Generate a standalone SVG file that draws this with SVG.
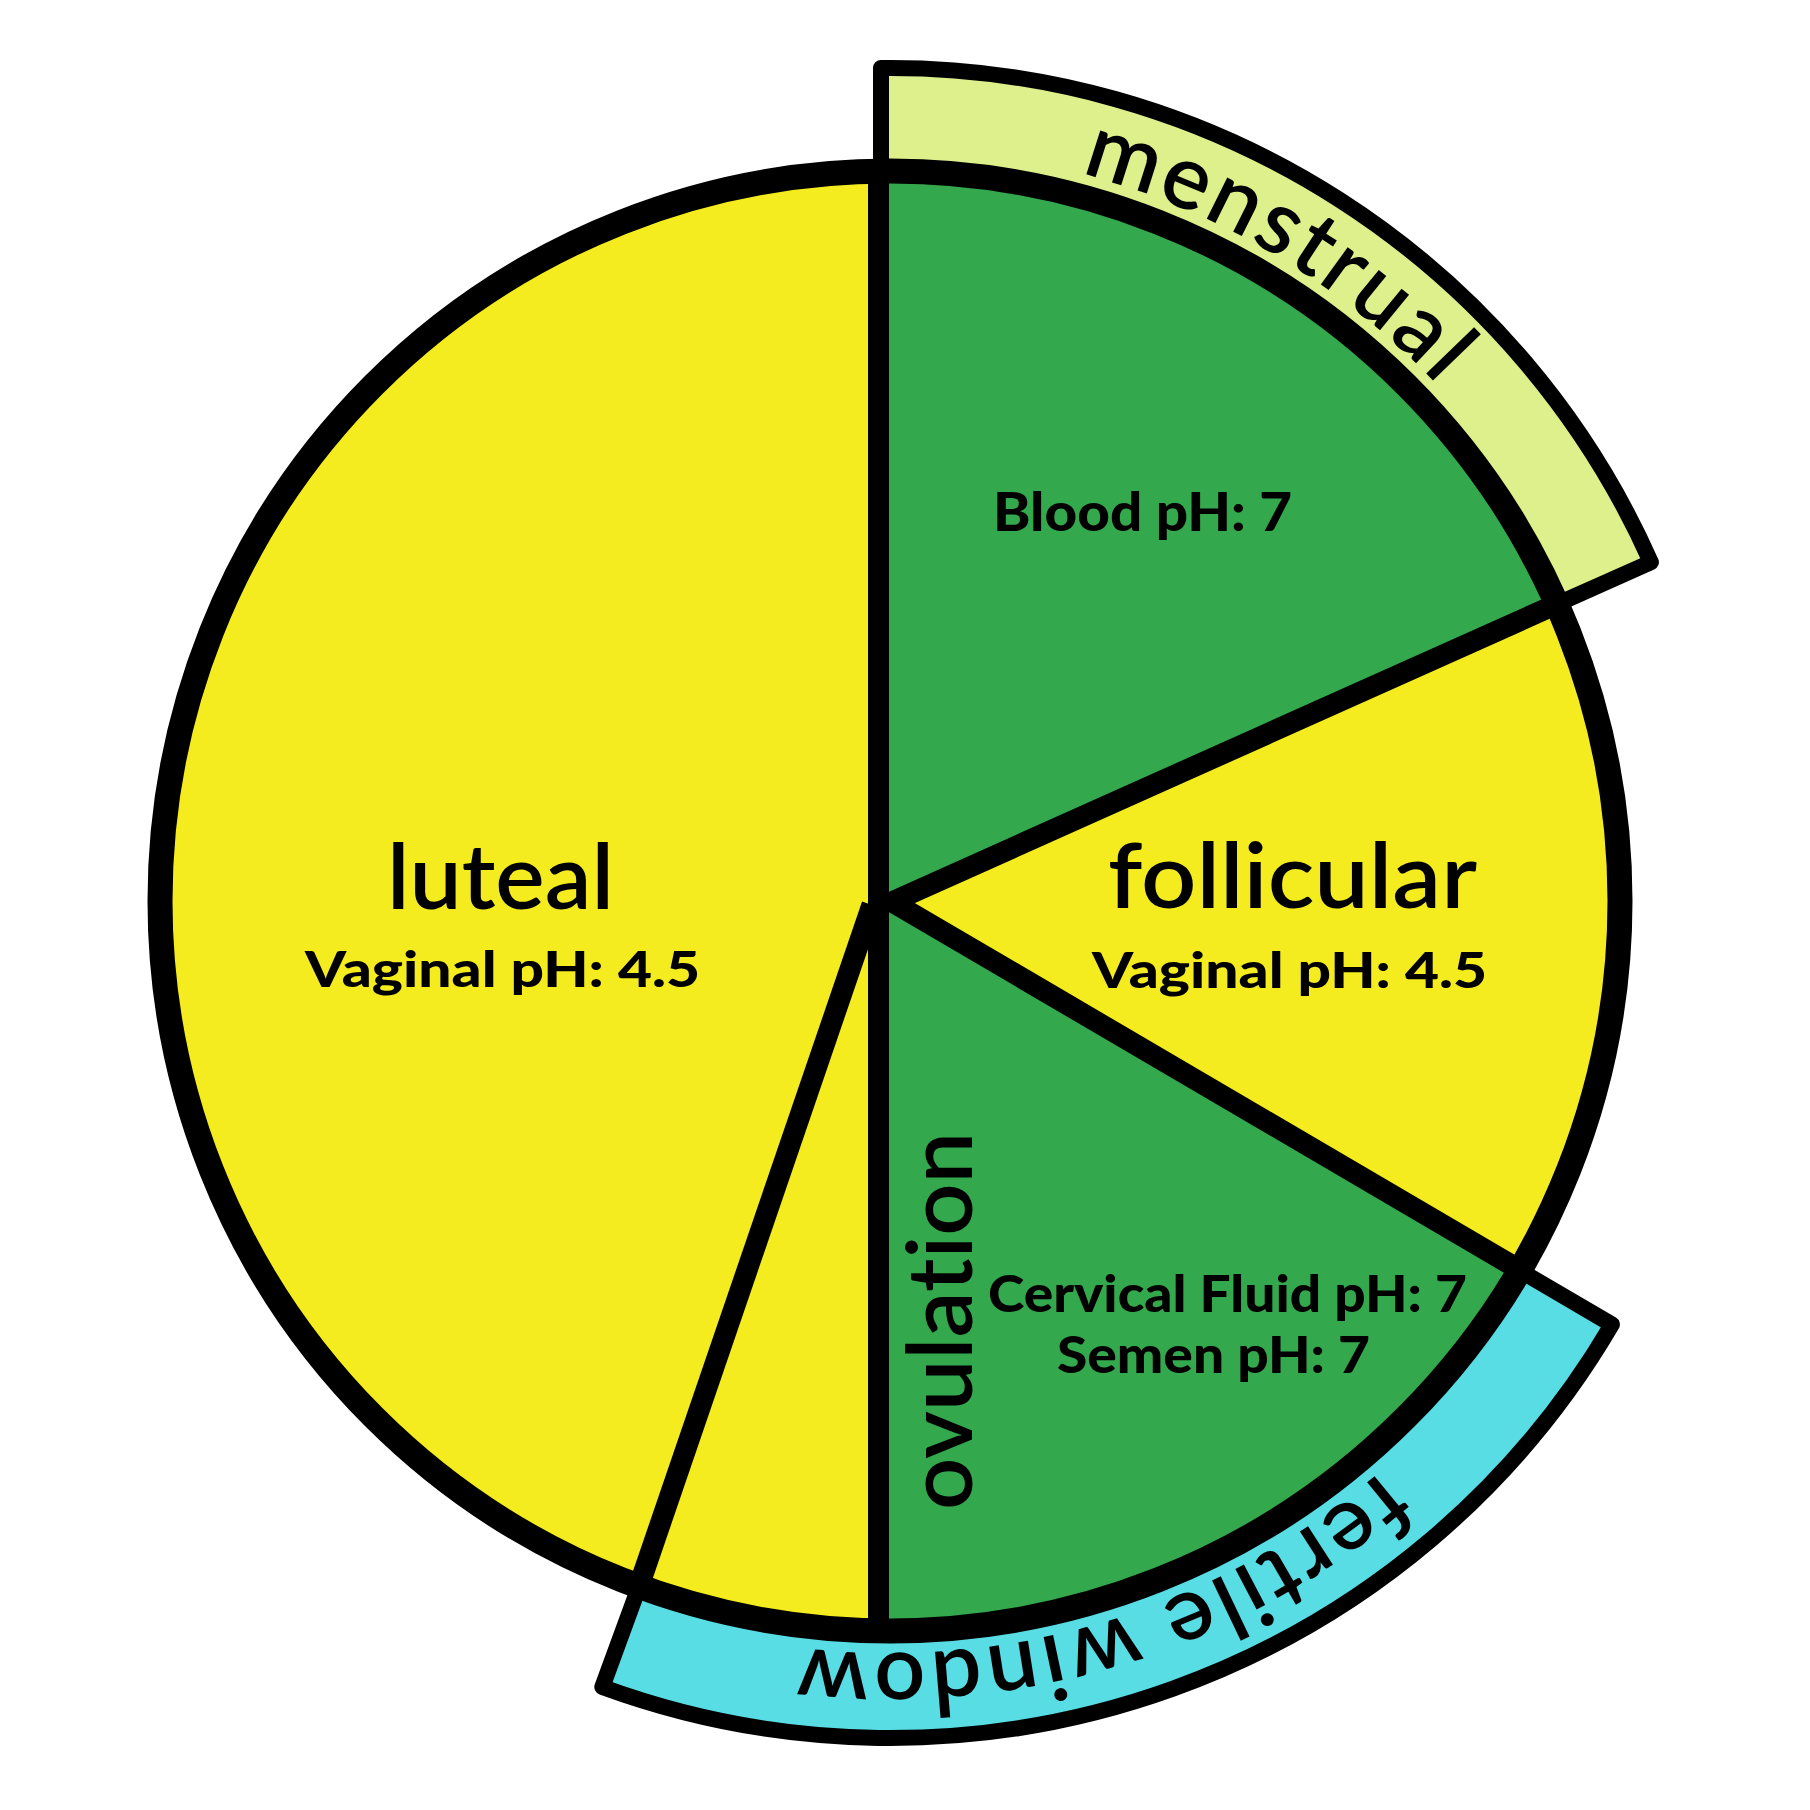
<svg xmlns="http://www.w3.org/2000/svg" width="1810" height="1810" viewBox="0 0 1810 1810">
<style>
.band{stroke:#000;stroke-width:16;stroke-linejoin:round}
.yellow{fill:#F4EC1E}
.green{fill:#34A84C}
.ln{stroke:#000;stroke-width:21;fill:none}
.phase{font-family:Lato,"Noto Sans",sans-serif;font-weight:600;font-size:90px;fill:#000;font-variant-ligatures:none}
.ph{font-family:Lato,"Noto Sans",sans-serif;font-weight:900;fill:#000;text-anchor:middle;font-variant-ligatures:none}
</style>
<defs>
<path id="ring" d="M 890,149 A 752 752 0 1 1 890,1653 A 752 752 0 1 1 890,149"/>
</defs>
<rect width="1810" height="1810" fill="#fff"/>
<g id="menstrual-band">
<path class="band" fill="#DEF08C" d="M 881,171 L 881,68 A 833 833 0 0 1 1650.9,562.2 L 1556.9,604.1 A 730 730 0 0 0 881,171 Z"/>
<text class="phase" letter-spacing="3" text-anchor="middle"><textPath href="#ring" startOffset="404">menstrual</textPath></text>
</g>
<g id="fertile-band">
<path class="band" fill="#58DDE5" d="M 1519.6,1270.4 L 1611.9,1324.5 A 837 837 0 0 1 602.3,1687 L 639.1,1586.5 A 730 730 0 0 0 1519.6,1270.4 Z"/>
<text class="phase" letter-spacing="4" text-anchor="middle"><textPath href="#ring" startOffset="2142">fertile window</textPath></text>
</g>
<g id="luteal">
<circle class="yellow" cx="890" cy="901" r="730"/>
</g>
<g id="menstrual-sector">
<path class="green" d="M 878,901 L 878,171.1 A 730 730 0 0 1 1556.9,604.1 Z"/>
</g>
<g id="ovulation-sector">
<path class="green" d="M 878,901 L 1519.6,1270.4 A 730 730 0 0 1 878,1630.9 Z"/>
</g>
<g id="connectors">
<line class="ln" x1="878.5" y1="171" x2="878.5" y2="1631" stroke-width="25"/>
<line class="ln" x1="894" y1="901" x2="1557" y2="604" stroke-linecap="round"/>
<line class="ln" x1="894" y1="903" x2="1520" y2="1270" stroke-linecap="round"/>
<line class="ln" x1="872" y1="905" x2="639" y2="1586"/>
</g>
<circle cx="890" cy="901" r="730" fill="none" stroke="#000" stroke-width="25"/>
<g id="labels">
<text class="phase" x="500.5" y="909" text-anchor="middle" textLength="227" lengthAdjust="spacingAndGlyphs">luteal</text>
<text class="ph" x="502.5" y="987" font-size="49" textLength="395" lengthAdjust="spacingAndGlyphs">Vaginal pH: 4.5</text>
<text class="phase" x="1292.5" y="908" text-anchor="middle" textLength="369" lengthAdjust="spacingAndGlyphs">follicular</text>
<text class="ph" x="1289.5" y="988" font-size="49" textLength="395" lengthAdjust="spacingAndGlyphs">Vaginal pH: 4.5</text>
<text class="ph" x="1142.5" y="531" font-size="53" textLength="299" lengthAdjust="spacingAndGlyphs">Blood pH: 7</text>
<text class="ph" x="1227.5" y="1312" font-size="51" textLength="479" lengthAdjust="spacingAndGlyphs">Cervical Fluid pH: 7</text>
<text class="ph" x="1213.5" y="1373" font-size="51" textLength="313" lengthAdjust="spacingAndGlyphs">Semen pH: 7</text>
<text class="phase" transform="translate(972,1321) rotate(-90)" x="0" y="0" text-anchor="middle" textLength="378" lengthAdjust="spacingAndGlyphs">ovulation</text>
</g>
</svg>
